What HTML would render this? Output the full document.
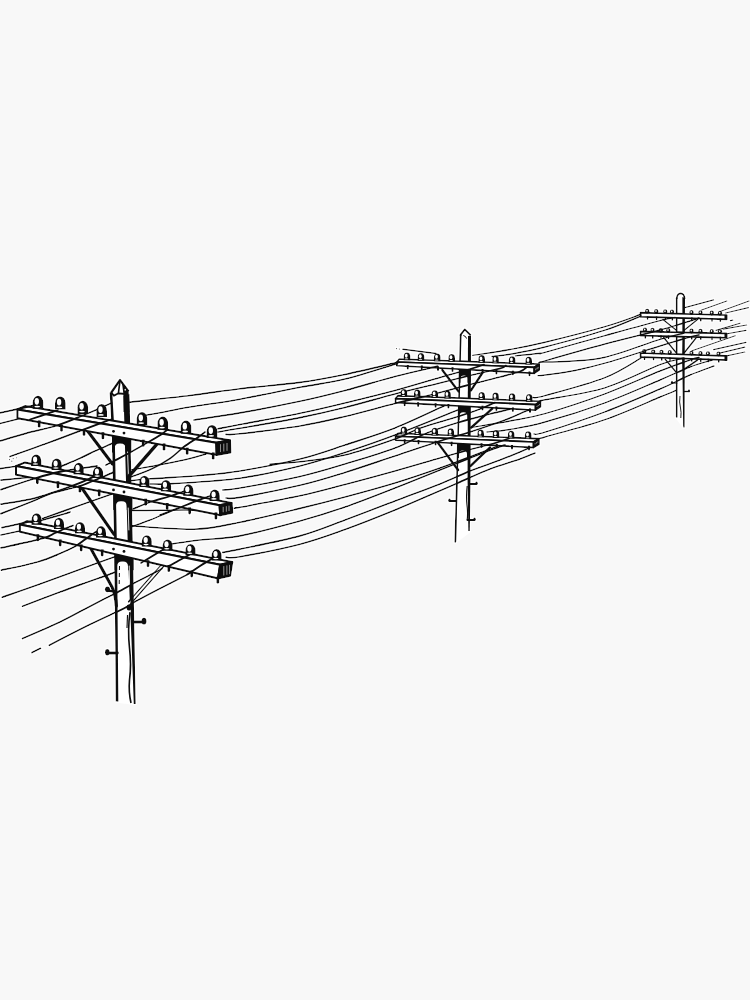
<!DOCTYPE html>
<html><head><meta charset="utf-8"><style>
html,body{margin:0;padding:0;background:#f8f8f8;}
svg{display:block;}
</style></head><body>
<svg width="750" height="1000" viewBox="0 0 750 1000">
<defs><filter id="halo" x="0" y="0" width="750" height="1000" filterUnits="userSpaceOnUse">
<feMorphology in="SourceAlpha" operator="dilate" radius="1.2" result="d"/>
<feFlood flood-color="#ffffff" result="w"/>
<feComposite in="w" in2="d" operator="in" result="wh"/>
<feMerge><feMergeNode in="wh"/><feMergeNode in="SourceGraphic"/></feMerge>
</filter></defs>
<rect width="750" height="1000" fill="#f8f8f8"/>
<g filter="url(#halo)">
<path d="M730.4,320.6 L732.8,320.2" fill="none" stroke="#0a0a0a" stroke-width="1.2" stroke-linecap="round"/>
<path d="M684.8,307.6 L713.6,299.8" fill="none" stroke="#0a0a0a" stroke-width="1.2" stroke-linecap="round"/>
<path d="M701.6,310.0 L726.8,301.0" fill="none" stroke="#0a0a0a" stroke-width="1.2" stroke-linecap="round"/>
<path d="M720.8,311.2 L749.0,301.0" fill="none" stroke="#0a0a0a" stroke-width="1.2" stroke-linecap="round"/>
<path d="M725.6,313.0 L748.4,307.6" fill="none" stroke="#0a0a0a" stroke-width="1.2" stroke-linecap="round"/>
<path d="M716.0,330.4 L740.0,323.2" fill="none" stroke="#0a0a0a" stroke-width="1.2" stroke-linecap="round"/>
<path d="M723.2,329.2 L746.6,325.0" fill="none" stroke="#0a0a0a" stroke-width="1.2" stroke-linecap="round"/>
<path d="M725.6,334.0 L746.0,330.4" fill="none" stroke="#0a0a0a" stroke-width="1.2" stroke-linecap="round"/>
<path d="M692.0,350.8 L735.2,335.8" fill="none" stroke="#0a0a0a" stroke-width="1.2" stroke-linecap="round"/>
<path d="M713.6,349.6 L746.0,342.4" fill="none" stroke="#0a0a0a" stroke-width="1.2" stroke-linecap="round"/>
<path d="M719.6,353.2 L744.8,347.2" fill="none" stroke="#0a0a0a" stroke-width="1.2" stroke-linecap="round"/>
<path d="M722.0,356.8 L744.8,352.0" fill="none" stroke="#0a0a0a" stroke-width="1.2" stroke-linecap="round"/>
<polygon points="676.4,300.0 678.0,294.3 680.8,293.2 683.6,294.3 684.8,300.0 684.4,427.5 676.5,417.0" fill="#fff"  />
<line x1="676.6" y1="298.0" x2="676.6" y2="417.0" stroke="#0a0a0a" stroke-width="1.5" stroke-linecap="round"/>
<path d="M682.4,297 L685,298 L684.6,427.5 L683.2,427.5 L682.6,380 Q681.8,360 682.4,340 Z" fill="#0a0a0a"/>
<path d="M676.6,299 Q677,293.6 680.6,293.3 Q684.4,293.6 684.8,299" fill="none" stroke="#0a0a0a" stroke-width="1.6"/>
<path d="M680,396 Q679,402 680.5,408 Q681.5,412 680.8,418" fill="none" stroke="#0a0a0a" stroke-width="0.9"/>
<line x1="663.0" y1="319.5" x2="676.0" y2="330.0" stroke="#0a0a0a" stroke-width="1.6" stroke-linecap="round"/>
<line x1="697.5" y1="319.5" x2="684.5" y2="330.0" stroke="#0a0a0a" stroke-width="1.6" stroke-linecap="round"/>
<line x1="663.7" y1="337.5" x2="676.0" y2="352.5" stroke="#0a0a0a" stroke-width="1.6" stroke-linecap="round"/>
<line x1="696.0" y1="338.0" x2="684.5" y2="352.5" stroke="#0a0a0a" stroke-width="1.6" stroke-linecap="round"/>
<line x1="665.2" y1="359.2" x2="676.0" y2="372.0" stroke="#0a0a0a" stroke-width="1.6" stroke-linecap="round"/>
<line x1="697.5" y1="360.0" x2="684.5" y2="369.0" stroke="#0a0a0a" stroke-width="1.6" stroke-linecap="round"/>
<polygon points="640.5,312.6 726.5,315.0 726.5,319.4 640.5,316.8" fill="#fff" stroke="#0a0a0a" stroke-width="1.7" stroke-linejoin="round" />
<path d="M724.5,314.4 L727.4,314.8 L727.4,319.8 L724.5,319.6 Z" fill="#0a0a0a"/>
<ellipse cx="647.2" cy="311.2" rx="2.2" ry="2.4" fill="#0a0a0a"/>
<ellipse cx="647.0" cy="310.8" rx="0.8" ry="1.0" fill="#fff"/>
<path d="M646.8,316.4 L646.8,319.2 A0.8,0.8 0 0 0 648.3,319.2 L648.3,316.4 Z" fill="#0a0a0a"/>
<ellipse cx="656.2" cy="311.4" rx="2.2" ry="2.4" fill="#0a0a0a"/>
<ellipse cx="656.0" cy="311.0" rx="0.8" ry="1.0" fill="#fff"/>
<path d="M655.8,316.6 L655.8,319.4 A0.8,0.8 0 0 0 657.3,319.4 L657.3,316.6 Z" fill="#0a0a0a"/>
<ellipse cx="665.2" cy="311.7" rx="2.2" ry="2.4" fill="#0a0a0a"/>
<ellipse cx="665.0" cy="311.3" rx="0.8" ry="1.0" fill="#fff"/>
<path d="M664.8,316.9 L664.8,319.7 A0.8,0.8 0 0 0 666.3,319.7 L666.3,316.9 Z" fill="#0a0a0a"/>
<ellipse cx="672.0" cy="311.9" rx="2.2" ry="2.4" fill="#0a0a0a"/>
<ellipse cx="671.7" cy="311.5" rx="0.8" ry="1.0" fill="#fff"/>
<path d="M671.5,317.1 L671.5,319.9 A0.8,0.8 0 0 0 673.1,319.9 L673.1,317.1 Z" fill="#0a0a0a"/>
<ellipse cx="691.5" cy="312.4" rx="2.2" ry="2.4" fill="#0a0a0a"/>
<ellipse cx="691.2" cy="312.0" rx="0.8" ry="1.0" fill="#fff"/>
<path d="M691.0,317.6 L691.0,320.4 A0.8,0.8 0 0 0 692.6,320.4 L692.6,317.6 Z" fill="#0a0a0a"/>
<ellipse cx="700.5" cy="312.7" rx="2.2" ry="2.4" fill="#0a0a0a"/>
<ellipse cx="700.2" cy="312.3" rx="0.8" ry="1.0" fill="#fff"/>
<path d="M700.0,317.9 L700.0,320.7 A0.8,0.8 0 0 0 701.6,320.7 L701.6,317.9 Z" fill="#0a0a0a"/>
<ellipse cx="711.8" cy="313.0" rx="2.2" ry="2.4" fill="#0a0a0a"/>
<ellipse cx="711.5" cy="312.6" rx="0.8" ry="1.0" fill="#fff"/>
<path d="M711.2,318.2 L711.2,321.0 A0.8,0.8 0 0 0 712.8,321.0 L712.8,318.2 Z" fill="#0a0a0a"/>
<ellipse cx="720.0" cy="313.2" rx="2.2" ry="2.4" fill="#0a0a0a"/>
<ellipse cx="719.7" cy="312.8" rx="0.8" ry="1.0" fill="#fff"/>
<path d="M719.5,318.4 L719.5,321.2 A0.8,0.8 0 0 0 721.1,321.2 L721.1,318.4 Z" fill="#0a0a0a"/>
<polygon points="640.5,331.4 726.5,333.4 726.5,337.8 640.5,335.6" fill="#fff" stroke="#0a0a0a" stroke-width="1.7" stroke-linejoin="round" />
<path d="M724.5,332.79999999999995 L727.4,333.2 L727.4,338.2 L724.5,338.0 Z" fill="#0a0a0a"/>
<ellipse cx="645.0" cy="329.9" rx="2.2" ry="2.4" fill="#0a0a0a"/>
<ellipse cx="644.7" cy="329.5" rx="0.8" ry="1.0" fill="#fff"/>
<path d="M644.5,335.1 L644.5,337.9 A0.8,0.8 0 0 0 646.1,337.9 L646.1,335.1 Z" fill="#0a0a0a"/>
<ellipse cx="652.5" cy="330.1" rx="2.2" ry="2.4" fill="#0a0a0a"/>
<ellipse cx="652.2" cy="329.7" rx="0.8" ry="1.0" fill="#fff"/>
<path d="M652.0,335.3 L652.0,338.1 A0.8,0.8 0 0 0 653.6,338.1 L653.6,335.3 Z" fill="#0a0a0a"/>
<ellipse cx="660.8" cy="330.3" rx="2.2" ry="2.4" fill="#0a0a0a"/>
<ellipse cx="660.5" cy="329.9" rx="0.8" ry="1.0" fill="#fff"/>
<path d="M660.2,335.5 L660.2,338.3 A0.8,0.8 0 0 0 661.8,338.3 L661.8,335.5 Z" fill="#0a0a0a"/>
<ellipse cx="668.2" cy="330.4" rx="2.2" ry="2.4" fill="#0a0a0a"/>
<ellipse cx="668.0" cy="330.0" rx="0.8" ry="1.0" fill="#fff"/>
<path d="M667.8,335.6 L667.8,338.4 A0.8,0.8 0 0 0 669.3,338.4 L669.3,335.6 Z" fill="#0a0a0a"/>
<ellipse cx="691.5" cy="331.0" rx="2.2" ry="2.4" fill="#0a0a0a"/>
<ellipse cx="691.2" cy="330.6" rx="0.8" ry="1.0" fill="#fff"/>
<path d="M691.0,336.2 L691.0,339.0 A0.8,0.8 0 0 0 692.6,339.0 L692.6,336.2 Z" fill="#0a0a0a"/>
<ellipse cx="700.5" cy="331.2" rx="2.2" ry="2.4" fill="#0a0a0a"/>
<ellipse cx="700.2" cy="330.8" rx="0.8" ry="1.0" fill="#fff"/>
<path d="M700.0,336.4 L700.0,339.2 A0.8,0.8 0 0 0 701.6,339.2 L701.6,336.4 Z" fill="#0a0a0a"/>
<ellipse cx="711.8" cy="331.5" rx="2.2" ry="2.4" fill="#0a0a0a"/>
<ellipse cx="711.5" cy="331.1" rx="0.8" ry="1.0" fill="#fff"/>
<path d="M711.2,336.7 L711.2,339.5 A0.8,0.8 0 0 0 712.8,339.5 L712.8,336.7 Z" fill="#0a0a0a"/>
<ellipse cx="720.0" cy="331.6" rx="2.2" ry="2.4" fill="#0a0a0a"/>
<ellipse cx="719.7" cy="331.2" rx="0.8" ry="1.0" fill="#fff"/>
<path d="M719.5,336.8 L719.5,339.6 A0.8,0.8 0 0 0 721.1,339.6 L721.1,336.8 Z" fill="#0a0a0a"/>
<polygon points="640.5,353.0 726.5,355.8 726.5,360.2 640.5,357.2" fill="#fff" stroke="#0a0a0a" stroke-width="1.7" stroke-linejoin="round" />
<path d="M724.5,355.2 L727.4,355.6 L727.4,360.6 L724.5,360.40000000000003 Z" fill="#0a0a0a"/>
<ellipse cx="644.2" cy="351.5" rx="2.2" ry="2.4" fill="#0a0a0a"/>
<ellipse cx="644.0" cy="351.1" rx="0.8" ry="1.0" fill="#fff"/>
<path d="M643.8,356.7 L643.8,359.5 A0.8,0.8 0 0 0 645.3,359.5 L645.3,356.7 Z" fill="#0a0a0a"/>
<ellipse cx="653.2" cy="351.8" rx="2.2" ry="2.4" fill="#0a0a0a"/>
<ellipse cx="653.0" cy="351.4" rx="0.8" ry="1.0" fill="#fff"/>
<path d="M652.8,357.0 L652.8,359.8 A0.8,0.8 0 0 0 654.3,359.8 L654.3,357.0 Z" fill="#0a0a0a"/>
<ellipse cx="661.5" cy="352.1" rx="2.2" ry="2.4" fill="#0a0a0a"/>
<ellipse cx="661.2" cy="351.7" rx="0.8" ry="1.0" fill="#fff"/>
<path d="M661.0,357.3 L661.0,360.1 A0.8,0.8 0 0 0 662.6,360.1 L662.6,357.3 Z" fill="#0a0a0a"/>
<ellipse cx="669.8" cy="352.4" rx="2.2" ry="2.4" fill="#0a0a0a"/>
<ellipse cx="669.5" cy="352.0" rx="0.8" ry="1.0" fill="#fff"/>
<path d="M669.2,357.6 L669.2,360.4 A0.8,0.8 0 0 0 670.8,360.4 L670.8,357.6 Z" fill="#0a0a0a"/>
<ellipse cx="691.5" cy="353.1" rx="2.2" ry="2.4" fill="#0a0a0a"/>
<ellipse cx="691.2" cy="352.7" rx="0.8" ry="1.0" fill="#fff"/>
<path d="M691.0,358.3 L691.0,361.1 A0.8,0.8 0 0 0 692.6,361.1 L692.6,358.3 Z" fill="#0a0a0a"/>
<ellipse cx="700.5" cy="353.4" rx="2.2" ry="2.4" fill="#0a0a0a"/>
<ellipse cx="700.2" cy="353.0" rx="0.8" ry="1.0" fill="#fff"/>
<path d="M700.0,358.6 L700.0,361.4 A0.8,0.8 0 0 0 701.6,361.4 L701.6,358.6 Z" fill="#0a0a0a"/>
<ellipse cx="708.0" cy="353.6" rx="2.2" ry="2.4" fill="#0a0a0a"/>
<ellipse cx="707.7" cy="353.2" rx="0.8" ry="1.0" fill="#fff"/>
<path d="M707.5,358.8 L707.5,361.6 A0.8,0.8 0 0 0 709.1,361.6 L709.1,358.8 Z" fill="#0a0a0a"/>
<ellipse cx="718.5" cy="353.9" rx="2.2" ry="2.4" fill="#0a0a0a"/>
<ellipse cx="718.2" cy="353.5" rx="0.8" ry="1.0" fill="#fff"/>
<path d="M718.0,359.1 L718.0,361.9 A0.8,0.8 0 0 0 719.6,361.9 L719.6,359.1 Z" fill="#0a0a0a"/>
<line x1="676.5" y1="383.0" x2="672.0" y2="383.0" stroke="#0a0a0a" stroke-width="1.7" stroke-linecap="round"/>
<ellipse cx="672.0" cy="382.2" rx="1.1" ry="1.5" fill="#0a0a0a"/>
<line x1="684.5" y1="391.5" x2="689.0" y2="391.5" stroke="#0a0a0a" stroke-width="1.7" stroke-linecap="round"/>
<ellipse cx="689.0" cy="390.7" rx="1.1" ry="1.5" fill="#0a0a0a"/>
<polygon points="460.5,334.6 464.8,329.3 470.7,335.1 471.0,344.0 469.6,531.0 455.3,542.0" fill="#fff"  />
<path d="M460.6,336 L460.6,334.6 L464.8,329.3 L470.7,335.1" fill="none" stroke="#0a0a0a" stroke-width="1.7" stroke-linejoin="round"/>
<line x1="460.6" y1="335.0" x2="455.3" y2="542.0" stroke="#0a0a0a" stroke-width="1.7" stroke-linecap="round"/>
<path d="M468,336 L471,335.5 L470.6,480 L469.8,531 L468.4,531 L467.6,480 Z" fill="#0a0a0a"/>
<path d="M463.3,335.5 Q466,336 466.5,338.5" fill="none" stroke="#0a0a0a" stroke-width="1.0"/>
<path d="M467.2,486 Q466,496 467,505 Q468,513 467.2,520" fill="none" stroke="#0a0a0a" stroke-width="1.1"/>
<path d="M458.8,367.5 L470.8,367.5 L470.8,382.7 L467.5,382.7 L467.5,378.7 Q467.5,375.5 464.3,375.5 L463.6,375.5 Q460.4,375.5 460.4,378.7 L460.4,382.7 L458.8,382.7 Z" fill="#0a0a0a"/>
<path d="M458.0,404.3 L470.6,404.3 L470.6,419.8 L467.3,419.8 L467.3,415.8 Q467.3,412.3 463.8,412.3 L463.1,412.3 Q459.6,412.3 459.6,415.8 L459.6,419.8 L458.0,419.8 Z" fill="#0a0a0a"/>
<path d="M457.3,441.9 L470.3,441.9 L470.3,458.0 L467.0,458.0 L467.0,454.0 Q467.0,450.4 463.3,450.4 L462.5,450.4 Q458.9,450.4 458.9,454.0 L458.9,458.0 L457.3,458.0 Z" fill="#0a0a0a"/>
<line x1="442.3" y1="370.0" x2="458.6" y2="391.5" stroke="#0a0a0a" stroke-width="2.5" stroke-linecap="round"/>
<line x1="482.8" y1="372.3" x2="471.0" y2="390.4" stroke="#0a0a0a" stroke-width="2.5" stroke-linecap="round"/>
<line x1="492.4" y1="408.5" x2="471.0" y2="427.7" stroke="#0a0a0a" stroke-width="2.5" stroke-linecap="round"/>
<line x1="437.3" y1="442.0" x2="458.0" y2="470.0" stroke="#0a0a0a" stroke-width="2.5" stroke-linecap="round"/>
<line x1="490.0" y1="447.3" x2="470.5" y2="466.0" stroke="#0a0a0a" stroke-width="2.5" stroke-linecap="round"/>
<line x1="469.5" y1="484.0" x2="476.5" y2="484.0" stroke="#0a0a0a" stroke-width="1.9" stroke-linecap="round"/>
<ellipse cx="476.5" cy="483.2" rx="1.3" ry="1.8" fill="#0a0a0a"/>
<line x1="456.0" y1="501.0" x2="449.5" y2="501.0" stroke="#0a0a0a" stroke-width="1.9" stroke-linecap="round"/>
<ellipse cx="449.5" cy="500.2" rx="1.3" ry="1.8" fill="#0a0a0a"/>
<line x1="467.5" y1="520.0" x2="474.5" y2="520.0" stroke="#0a0a0a" stroke-width="1.9" stroke-linecap="round"/>
<ellipse cx="474.5" cy="519.2" rx="1.3" ry="1.8" fill="#0a0a0a"/>
<path d="M128.0,470.5 C134.0,469.4 153.7,466.0 164.0,464.0 C174.3,462.0 183.0,460.2 190.0,458.5 C197.0,456.8 203.3,454.8 206.0,454.0" fill="none" stroke="#0a0a0a" stroke-width="1.5" stroke-linecap="round"/>
<path d="M128.0,510.5 C133.3,510.5 150.3,510.4 160.0,510.3 C169.7,510.2 178.5,509.9 186.0,510.0 C193.5,510.1 201.8,510.8 205.0,511.0" fill="none" stroke="#0a0a0a" stroke-width="1.5" stroke-linecap="round"/>
<path d="M128.0,528.0 C131.7,526.7 143.3,522.6 150.0,520.0 C156.7,517.4 162.7,514.7 168.0,512.5 C173.3,510.3 179.7,507.9 182.0,507.0" fill="none" stroke="#0a0a0a" stroke-width="1.5" stroke-linecap="round"/>
<polygon points="396.8,362.0 399.3,359.0 539.2,364.0 534.2,367.4" fill="#fff" stroke="#0a0a0a" stroke-width="1.6" stroke-linejoin="round" />
<polygon points="396.8,362.0 534.2,367.4 534.2,373.4 396.8,365.8" fill="#fff" stroke="#0a0a0a" stroke-width="1.6" stroke-linejoin="round" />
<polygon points="534.2,367.4 539.2,364.0 539.2,370.0 534.2,373.4" fill="#0a0a0a" stroke="#0a0a0a" stroke-width="1.6" stroke-linejoin="round" />
<line x1="535.7" y1="368.6" x2="535.7" y2="370.2" stroke="#fff" stroke-width="0.7" opacity="0.85"/>
<line x1="537.0" y1="367.7" x2="537.0" y2="369.3" stroke="#fff" stroke-width="0.7" opacity="0.85"/>
<line x1="538.1" y1="366.9" x2="538.1" y2="368.5" stroke="#fff" stroke-width="0.7" opacity="0.85"/>
<polygon points="395.5,398.6 398.0,395.6 540.5,401.2 535.5,404.6" fill="#fff" stroke="#0a0a0a" stroke-width="1.6" stroke-linejoin="round" />
<polygon points="395.5,398.6 535.5,404.6 535.5,410.2 395.5,402.6" fill="#fff" stroke="#0a0a0a" stroke-width="1.6" stroke-linejoin="round" />
<polygon points="535.5,404.6 540.5,401.2 540.5,406.8 535.5,410.2" fill="#0a0a0a" stroke="#0a0a0a" stroke-width="1.6" stroke-linejoin="round" />
<line x1="537.0" y1="405.8" x2="537.0" y2="407.0" stroke="#fff" stroke-width="0.7" opacity="0.85"/>
<line x1="538.2" y1="404.9" x2="538.2" y2="406.1" stroke="#fff" stroke-width="0.7" opacity="0.85"/>
<line x1="539.4" y1="404.1" x2="539.4" y2="405.3" stroke="#fff" stroke-width="0.7" opacity="0.85"/>
<polygon points="395.5,436.2 398.0,433.2 539.0,438.6 533.5,442.0" fill="#fff" stroke="#0a0a0a" stroke-width="1.6" stroke-linejoin="round" />
<polygon points="395.5,436.2 533.5,442.0 533.5,447.6 395.5,440.2" fill="#fff" stroke="#0a0a0a" stroke-width="1.6" stroke-linejoin="round" />
<polygon points="533.5,442.0 539.0,438.6 539.0,444.2 533.5,447.6" fill="#0a0a0a" stroke="#0a0a0a" stroke-width="1.6" stroke-linejoin="round" />
<line x1="535.1" y1="443.2" x2="535.1" y2="444.4" stroke="#fff" stroke-width="0.7" opacity="0.85"/>
<line x1="536.5" y1="442.3" x2="536.5" y2="443.5" stroke="#fff" stroke-width="0.7" opacity="0.85"/>
<line x1="537.8" y1="441.5" x2="537.8" y2="442.7" stroke="#fff" stroke-width="0.7" opacity="0.85"/>
<path d="M472.8,355.4 C479.0,354.4 498.0,351.7 510.0,349.5 C522.0,347.3 529.2,346.0 545.0,342.2 C560.8,338.4 589.1,331.2 605.0,326.6 C620.9,322.0 634.6,316.5 640.5,314.5" fill="none" stroke="#0a0a0a" stroke-width="1.4" stroke-linecap="round"/>
<path d="M492.0,356.5 C495.0,356.1 501.2,355.9 510.0,354.3 C518.8,352.7 529.2,351.0 545.0,347.0 C560.8,343.0 589.0,335.4 605.0,330.2 C621.0,325.0 635.0,318.4 641.0,316.0" fill="none" stroke="#0a0a0a" stroke-width="1.4" stroke-linecap="round"/>
<path d="M515.5,355.9 C519.6,355.5 535.1,353.9 540.0,353.3 C544.9,352.7 534.2,355.3 545.0,352.4 C555.8,349.4 585.8,340.9 605.0,335.6 C624.2,330.3 648.3,323.6 660.0,320.6 C671.7,317.6 672.5,318.0 675.0,317.5" fill="none" stroke="#0a0a0a" stroke-width="1.4" stroke-linecap="round"/>
<path d="M540.0,362.5 C540.8,362.2 534.2,363.9 545.0,360.8 C555.8,357.7 585.8,349.1 605.0,344.0 C624.2,338.9 646.7,333.6 660.0,330.0 C673.3,326.4 678.5,324.5 685.0,322.5 C691.5,320.5 696.7,318.8 699.0,318.0" fill="none" stroke="#0a0a0a" stroke-width="1.4" stroke-linecap="round"/>
<path d="M540.0,362.0 C545.0,361.9 559.2,362.0 570.0,361.2 C580.8,360.4 590.0,360.8 605.0,357.2 C620.0,353.6 646.8,343.4 660.0,339.4 C673.2,335.4 680.0,334.1 684.0,333.0" fill="none" stroke="#0a0a0a" stroke-width="1.4" stroke-linecap="round"/>
<path d="M538.0,375.6 C539.2,375.5 538.8,375.9 545.0,375.0 C551.2,374.1 565.0,372.5 575.0,370.5 C585.0,368.5 590.8,367.3 605.0,363.2 C619.2,359.1 645.8,350.4 660.0,346.0 C674.2,341.6 683.5,338.8 690.0,337.0 C696.5,335.2 697.5,335.3 699.0,335.0" fill="none" stroke="#0a0a0a" stroke-width="1.4" stroke-linecap="round"/>
<path d="M532.8,397.6 C534.8,397.3 533.0,398.9 545.0,395.6 C557.0,392.3 588.8,384.0 605.0,377.6 C621.2,371.2 635.8,360.8 642.0,357.4" fill="none" stroke="#0a0a0a" stroke-width="1.4" stroke-linecap="round"/>
<path d="M541.2,400.9 C541.8,400.7 534.4,402.0 545.0,399.8 C555.6,397.6 585.8,393.7 605.0,387.8 C624.2,381.9 646.8,369.6 660.0,364.6 C673.2,359.6 680.0,359.1 684.0,358.0" fill="none" stroke="#0a0a0a" stroke-width="1.4" stroke-linecap="round"/>
<path d="M471.8,427.4 C478.2,426.3 497.8,423.3 510.0,421.0 C522.2,418.7 529.2,418.1 545.0,413.6 C560.8,409.1 585.8,400.9 605.0,393.8 C624.2,386.7 645.8,376.6 660.0,371.0 C674.2,365.4 683.5,362.2 690.0,360.0 C696.5,357.8 697.5,357.9 699.0,357.5" fill="none" stroke="#0a0a0a" stroke-width="1.4" stroke-linecap="round"/>
<path d="M487.0,432.0 C490.8,431.6 500.3,431.2 510.0,429.5 C519.7,427.8 529.2,426.4 545.0,422.0 C560.8,417.6 585.8,409.8 605.0,402.8 C624.2,395.8 645.8,386.0 660.0,380.0 C674.2,374.0 681.3,370.3 690.0,367.0 C698.7,363.7 708.7,361.2 712.4,360.0" fill="none" stroke="#0a0a0a" stroke-width="1.4" stroke-linecap="round"/>
<path d="M534.0,434.0 C535.8,433.7 533.2,435.9 545.0,432.2 C556.8,428.5 585.8,419.0 605.0,411.8 C624.2,404.6 645.8,395.1 660.0,389.0 C674.2,382.9 681.0,378.8 690.0,375.0 C699.0,371.2 710.0,367.5 714.0,366.0" fill="none" stroke="#0a0a0a" stroke-width="1.4" stroke-linecap="round"/>
<path d="M541.2,438.0 C541.8,437.8 534.4,440.1 545.0,437.0 C555.6,433.9 585.8,426.3 605.0,419.6 C624.2,412.9 648.2,401.9 660.0,397.0 C671.8,392.1 673.3,391.6 676.0,390.5" fill="none" stroke="#0a0a0a" stroke-width="1.4" stroke-linecap="round"/>
<path d="M128.0,402.4 C138.3,401.2 171.3,397.8 190.0,395.5 C208.7,393.2 221.7,390.9 240.0,388.7 C258.3,386.5 282.5,384.8 300.0,382.4 C317.5,380.0 328.8,377.8 345.0,374.5 C361.2,371.2 388.8,364.4 397.5,362.4" fill="none" stroke="#0a0a0a" stroke-width="1.65" stroke-linecap="round"/>
<path d="M146.0,415.2 C148.3,414.8 152.7,414.2 160.0,412.8 C167.3,411.4 176.7,409.3 190.0,407.0 C203.3,404.7 221.7,402.5 240.0,399.2 C258.3,395.9 282.5,390.7 300.0,387.3 C317.5,383.9 328.8,383.0 345.0,379.0 C361.2,375.0 388.8,366.0 397.5,363.4" fill="none" stroke="#0a0a0a" stroke-width="1.65" stroke-linecap="round"/>
<path d="M194.0,420.0 C201.7,418.8 222.3,416.0 240.0,412.9 C257.7,409.8 282.5,405.0 300.0,401.3 C317.5,397.6 329.2,394.6 345.0,390.5 C360.8,386.4 379.6,380.5 395.0,376.5 C410.4,372.5 430.6,368.1 437.7,366.4" fill="none" stroke="#0a0a0a" stroke-width="1.65" stroke-linecap="round"/>
<path d="M218.0,428.8 C221.7,428.1 226.3,427.1 240.0,424.5 C253.7,421.9 282.5,416.9 300.0,413.3 C317.5,409.7 329.2,406.8 345.0,403.0 C360.8,399.2 379.2,394.8 395.0,390.5 C410.8,386.2 427.2,381.2 440.0,377.5 C452.8,373.8 464.7,370.7 472.0,368.5 C479.3,366.3 482.0,365.2 484.0,364.5" fill="none" stroke="#0a0a0a" stroke-width="1.65" stroke-linecap="round"/>
<path d="M218.0,432.0 C221.7,431.4 226.3,430.7 240.0,428.3 C253.7,425.9 282.5,421.1 300.0,417.6 C317.5,414.1 329.2,411.4 345.0,407.5 C360.8,403.6 379.2,398.1 395.0,394.0 C410.8,389.9 427.2,386.2 440.0,383.0 C452.8,379.8 462.0,377.4 472.0,375.0 C482.0,372.6 494.3,370.1 500.0,368.5 C505.7,366.9 505.0,366.0 506.0,365.5" fill="none" stroke="#0a0a0a" stroke-width="1.65" stroke-linecap="round"/>
<path d="M226.0,434.4 C228.3,434.3 227.7,435.2 240.0,433.8 C252.3,432.4 282.5,428.9 300.0,426.0 C317.5,423.1 329.2,420.2 345.0,416.5 C360.8,412.8 379.2,407.5 395.0,403.5 C410.8,399.5 427.2,395.8 440.0,392.5 C452.8,389.2 462.0,386.6 472.0,384.0 C482.0,381.4 492.0,379.1 500.0,377.0 C508.0,374.9 515.5,373.2 520.0,371.5 C524.5,369.8 525.8,367.8 527.0,367.0" fill="none" stroke="#0a0a0a" stroke-width="1.65" stroke-linecap="round"/>
<path d="M128.0,481.0 C131.8,480.6 138.8,479.7 150.8,478.8 C162.8,477.9 185.1,476.8 200.0,475.5 C214.9,474.2 223.3,473.8 240.0,471.0 C256.7,468.2 282.5,463.3 300.0,459.0 C317.5,454.7 329.2,450.2 345.0,445.0 C360.8,439.8 378.3,434.6 395.0,428.0 C411.7,421.4 436.7,409.2 445.0,405.5" fill="none" stroke="#0a0a0a" stroke-width="1.65" stroke-linecap="round"/>
<path d="M150.0,484.0 C153.9,483.9 158.2,484.6 173.2,483.6 C188.2,482.6 218.9,481.1 240.0,478.2 C261.1,475.3 282.5,470.3 300.0,466.0 C317.5,461.7 329.2,457.7 345.0,452.5 C360.8,447.3 376.0,442.2 395.0,435.0 C414.0,427.8 447.5,414.1 459.0,409.5 C470.5,404.9 463.2,407.7 464.0,407.3" fill="none" stroke="#0a0a0a" stroke-width="1.65" stroke-linecap="round"/>
<path d="M270.0,464.2 C275.0,463.8 287.5,463.3 300.0,461.8 C312.5,460.3 329.2,458.8 345.0,455.0 C360.8,451.2 382.4,443.5 395.0,439.0 C407.6,434.5 409.9,431.8 420.6,428.0 C431.3,424.2 449.1,419.5 459.0,416.3 C468.9,413.1 474.0,411.3 480.0,409.0 C486.0,406.7 492.5,403.6 495.0,402.5" fill="none" stroke="#0a0a0a" stroke-width="1.65" stroke-linecap="round"/>
<path d="M222.8,490.0 C225.7,489.7 227.1,490.2 240.0,488.0 C252.9,485.8 282.5,480.5 300.0,476.5 C317.5,472.5 329.2,468.8 345.0,464.0 C360.8,459.2 381.3,453.2 395.0,448.0 C408.7,442.8 416.2,437.3 427.0,433.0 C437.8,428.7 449.5,425.2 460.0,422.0 C470.5,418.8 481.4,416.2 490.0,414.0 C498.6,411.8 507.8,409.7 511.4,408.8" fill="none" stroke="#0a0a0a" stroke-width="1.65" stroke-linecap="round"/>
<path d="M226.0,498.0 C228.3,497.9 227.7,499.5 240.0,497.4 C252.3,495.3 282.5,489.4 300.0,485.3 C317.5,481.2 329.2,477.4 345.0,472.5 C360.8,467.6 379.2,461.2 395.0,456.0 C410.8,450.8 427.5,445.0 440.0,441.0 C452.5,437.0 459.2,435.5 470.0,432.0 C480.8,428.5 495.8,423.4 505.0,420.0 C514.2,416.6 520.8,413.2 525.0,411.5 C529.2,409.8 529.2,409.8 530.0,409.5" fill="none" stroke="#0a0a0a" stroke-width="1.65" stroke-linecap="round"/>
<path d="M236.4,507.6 C237.0,507.6 229.4,509.3 240.0,507.3 C250.6,505.3 282.5,499.6 300.0,495.8 C317.5,492.0 329.2,488.6 345.0,484.5 C360.8,480.4 379.2,475.4 395.0,471.0 C410.8,466.6 427.5,461.6 440.0,458.0 C452.5,454.4 461.7,451.8 470.0,449.5 C478.3,447.2 485.0,445.8 490.0,444.5 C495.0,443.2 496.8,442.5 500.0,441.5 C503.2,440.5 507.5,439.0 509.0,438.5" fill="none" stroke="#0a0a0a" stroke-width="1.65" stroke-linecap="round"/>
<path d="M128.0,525.5 C139.0,526.1 175.3,529.8 194.0,529.2 C212.7,528.7 222.3,525.7 240.0,522.2 C257.7,518.7 282.5,512.6 300.0,508.4 C317.5,504.2 329.2,501.2 345.0,497.0 C360.8,492.8 379.2,487.8 395.0,483.0 C410.8,478.2 425.8,473.0 440.0,468.0 C454.2,463.0 470.3,456.7 480.0,453.0 C489.7,449.3 495.0,447.2 498.0,446.0" fill="none" stroke="#0a0a0a" stroke-width="1.65" stroke-linecap="round"/>
<path d="M168.4,544.4 C173.7,543.7 188.1,541.4 200.0,540.0 C211.9,538.6 223.3,539.1 240.0,535.9 C256.7,532.7 282.5,525.8 300.0,521.0 C317.5,516.2 329.2,512.5 345.0,507.0 C360.8,501.5 379.2,494.2 395.0,488.0 C410.8,481.8 427.5,475.0 440.0,470.0 C452.5,465.0 460.7,461.7 470.0,458.0 C479.3,454.3 490.2,450.2 496.0,448.0 C501.8,445.8 503.5,445.5 505.0,445.0" fill="none" stroke="#0a0a0a" stroke-width="1.65" stroke-linecap="round"/>
<path d="M222.8,552.4 C225.7,551.9 227.1,551.9 240.0,549.1 C252.9,546.4 282.5,540.8 300.0,535.9 C317.5,531.0 329.2,525.8 345.0,520.0 C360.8,514.2 379.2,507.0 395.0,501.0 C410.8,495.0 427.5,489.0 440.0,484.0 C452.5,479.0 460.0,475.0 470.0,471.0 C480.0,467.0 491.7,463.2 500.0,460.0 C508.3,456.8 515.0,454.1 520.0,452.0 C525.0,449.9 528.3,448.2 530.0,447.5" fill="none" stroke="#0a0a0a" stroke-width="1.65" stroke-linecap="round"/>
<path d="M226.0,557.2 C228.3,557.1 227.7,559.0 240.0,556.8 C252.3,554.6 282.5,548.8 300.0,544.2 C317.5,539.7 329.2,535.2 345.0,529.5 C360.8,523.8 380.8,515.8 395.0,510.0 C409.2,504.2 419.2,499.7 430.0,495.0 C440.8,490.3 450.0,486.3 460.0,482.0 C470.0,477.7 480.0,472.8 490.0,469.0 C500.0,465.2 512.5,461.7 520.0,459.0 C527.5,456.3 532.5,454.0 535.0,453.0" fill="none" stroke="#0a0a0a" stroke-width="1.65" stroke-linecap="round"/>
<path d="M403.0,349.3 L436.0,353.5" fill="none" stroke="#0a0a0a" stroke-width="1.65" stroke-linecap="round"/>
<path d="M403.7,360.2 L403.7,356.5 A3.3,4.1 0 0 1 410.3,356.5 L410.3,360.2 Z" fill="#0a0a0a"/>
<ellipse cx="406.3" cy="355.7" rx="1.4" ry="2.0" fill="#fff"/>
<ellipse cx="406.5" cy="358.8" rx="1.8" ry="0.5" fill="#fff"/>
<path d="M406.8,364.9 L406.8,368.5 A1.0,1.0 0 0 0 408.8,368.5 L408.8,364.9 Z" fill="#0a0a0a"/>
<path d="M417.7,360.7 L417.7,357.0 A3.3,4.1 0 0 1 424.3,357.0 L424.3,360.7 Z" fill="#0a0a0a"/>
<ellipse cx="420.3" cy="356.2" rx="1.4" ry="2.0" fill="#fff"/>
<ellipse cx="420.5" cy="359.3" rx="1.8" ry="0.5" fill="#fff"/>
<path d="M420.8,365.6 L420.8,369.2 A1.0,1.0 0 0 0 422.8,369.2 L422.8,365.6 Z" fill="#0a0a0a"/>
<path d="M433.9,361.3 L433.9,357.6 A3.3,4.1 0 0 1 440.5,357.6 L440.5,361.3 Z" fill="#0a0a0a"/>
<ellipse cx="436.5" cy="356.8" rx="1.4" ry="2.0" fill="#fff"/>
<ellipse cx="436.7" cy="359.9" rx="1.8" ry="0.5" fill="#fff"/>
<path d="M437.0,366.5 L437.0,370.1 A1.0,1.0 0 0 0 439.0,370.1 L439.0,366.5 Z" fill="#0a0a0a"/>
<path d="M448.4,361.8 L448.4,358.1 A3.3,4.1 0 0 1 455.0,358.1 L455.0,361.8 Z" fill="#0a0a0a"/>
<ellipse cx="451.0" cy="357.3" rx="1.4" ry="2.0" fill="#fff"/>
<ellipse cx="451.2" cy="360.4" rx="1.8" ry="0.5" fill="#fff"/>
<path d="M451.5,367.3 L451.5,370.9 A1.0,1.0 0 0 0 453.5,370.9 L453.5,367.3 Z" fill="#0a0a0a"/>
<path d="M478.4,362.8 L478.4,359.2 A3.3,4.1 0 0 1 485.0,359.2 L485.0,362.8 Z" fill="#0a0a0a"/>
<ellipse cx="481.0" cy="358.4" rx="1.4" ry="2.0" fill="#fff"/>
<ellipse cx="481.2" cy="361.5" rx="1.8" ry="0.5" fill="#fff"/>
<path d="M481.5,369.0 L481.5,372.6 A1.0,1.0 0 0 0 483.5,372.6 L483.5,369.0 Z" fill="#0a0a0a"/>
<path d="M492.3,363.3 L492.3,359.7 A3.3,4.1 0 0 1 498.9,359.7 L498.9,363.3 Z" fill="#0a0a0a"/>
<ellipse cx="494.9" cy="358.9" rx="1.4" ry="2.0" fill="#fff"/>
<ellipse cx="495.1" cy="362.0" rx="1.8" ry="0.5" fill="#fff"/>
<path d="M495.4,369.8 L495.4,373.4 A1.0,1.0 0 0 0 497.4,373.4 L497.4,369.8 Z" fill="#0a0a0a"/>
<path d="M508.8,363.9 L508.8,360.3 A3.3,4.1 0 0 1 515.4,360.3 L515.4,363.9 Z" fill="#0a0a0a"/>
<ellipse cx="511.4" cy="359.5" rx="1.4" ry="2.0" fill="#fff"/>
<ellipse cx="511.6" cy="362.6" rx="1.8" ry="0.5" fill="#fff"/>
<path d="M511.9,370.7 L511.9,374.3 A1.0,1.0 0 0 0 513.9,374.3 L513.9,370.7 Z" fill="#0a0a0a"/>
<path d="M525.4,364.5 L525.4,360.8 A3.3,4.1 0 0 1 532.0,360.8 L532.0,364.5 Z" fill="#0a0a0a"/>
<ellipse cx="528.0" cy="360.1" rx="1.4" ry="2.0" fill="#fff"/>
<ellipse cx="528.2" cy="363.2" rx="1.8" ry="0.5" fill="#fff"/>
<path d="M528.5,371.6 L528.5,375.2 A1.0,1.0 0 0 0 530.5,375.2 L530.5,371.6 Z" fill="#0a0a0a"/>
<path d="M400.6,396.7 L400.6,393.1 A3.3,4.1 0 0 1 407.2,393.1 L407.2,396.7 Z" fill="#0a0a0a"/>
<ellipse cx="403.2" cy="392.3" rx="1.4" ry="2.0" fill="#fff"/>
<ellipse cx="403.4" cy="395.4" rx="1.8" ry="0.5" fill="#fff"/>
<path d="M403.7,401.6 L403.7,405.2 A1.0,1.0 0 0 0 405.7,405.2 L405.7,401.6 Z" fill="#0a0a0a"/>
<path d="M414.0,397.3 L414.0,393.6 A3.3,4.1 0 0 1 420.6,393.6 L420.6,397.3 Z" fill="#0a0a0a"/>
<ellipse cx="416.6" cy="392.8" rx="1.4" ry="2.0" fill="#fff"/>
<ellipse cx="416.8" cy="395.9" rx="1.8" ry="0.5" fill="#fff"/>
<path d="M417.1,402.3 L417.1,405.9 A1.0,1.0 0 0 0 419.1,405.9 L419.1,402.3 Z" fill="#0a0a0a"/>
<path d="M431.5,397.9 L431.5,394.3 A3.3,4.1 0 0 1 438.1,394.3 L438.1,397.9 Z" fill="#0a0a0a"/>
<ellipse cx="434.1" cy="393.5" rx="1.4" ry="2.0" fill="#fff"/>
<ellipse cx="434.3" cy="396.6" rx="1.8" ry="0.5" fill="#fff"/>
<path d="M434.6,403.2 L434.6,406.8 A1.0,1.0 0 0 0 436.6,406.8 L436.6,403.2 Z" fill="#0a0a0a"/>
<path d="M444.3,398.4 L444.3,394.8 A3.3,4.1 0 0 1 450.9,394.8 L450.9,398.4 Z" fill="#0a0a0a"/>
<ellipse cx="446.9" cy="394.0" rx="1.4" ry="2.0" fill="#fff"/>
<ellipse cx="447.1" cy="397.1" rx="1.8" ry="0.5" fill="#fff"/>
<path d="M447.4,403.9 L447.4,407.5 A1.0,1.0 0 0 0 449.4,407.5 L449.4,403.9 Z" fill="#0a0a0a"/>
<path d="M478.4,399.8 L478.4,396.1 A3.3,4.1 0 0 1 485.0,396.1 L485.0,399.8 Z" fill="#0a0a0a"/>
<ellipse cx="481.0" cy="395.3" rx="1.4" ry="2.0" fill="#fff"/>
<ellipse cx="481.2" cy="398.5" rx="1.8" ry="0.5" fill="#fff"/>
<path d="M481.5,405.8 L481.5,409.4 A1.0,1.0 0 0 0 483.5,409.4 L483.5,405.8 Z" fill="#0a0a0a"/>
<path d="M492.3,400.3 L492.3,396.7 A3.3,4.1 0 0 1 498.9,396.7 L498.9,400.3 Z" fill="#0a0a0a"/>
<ellipse cx="494.9" cy="395.9" rx="1.4" ry="2.0" fill="#fff"/>
<ellipse cx="495.1" cy="399.0" rx="1.8" ry="0.5" fill="#fff"/>
<path d="M495.4,406.5 L495.4,410.1 A1.0,1.0 0 0 0 497.4,410.1 L497.4,406.5 Z" fill="#0a0a0a"/>
<path d="M508.8,401.0 L508.8,397.3 A3.3,4.1 0 0 1 515.4,397.3 L515.4,401.0 Z" fill="#0a0a0a"/>
<ellipse cx="511.4" cy="396.5" rx="1.4" ry="2.0" fill="#fff"/>
<ellipse cx="511.6" cy="399.7" rx="1.8" ry="0.5" fill="#fff"/>
<path d="M511.9,407.4 L511.9,411.0 A1.0,1.0 0 0 0 513.9,411.0 L513.9,407.4 Z" fill="#0a0a0a"/>
<path d="M525.9,401.7 L525.9,398.0 A3.3,4.1 0 0 1 532.5,398.0 L532.5,401.7 Z" fill="#0a0a0a"/>
<ellipse cx="528.5" cy="397.2" rx="1.4" ry="2.0" fill="#fff"/>
<ellipse cx="528.7" cy="400.3" rx="1.8" ry="0.5" fill="#fff"/>
<path d="M529.0,408.4 L529.0,412.0 A1.0,1.0 0 0 0 531.0,412.0 L531.0,408.4 Z" fill="#0a0a0a"/>
<path d="M400.6,434.3 L400.6,430.7 A3.3,4.1 0 0 1 407.2,430.7 L407.2,434.3 Z" fill="#0a0a0a"/>
<ellipse cx="403.2" cy="429.9" rx="1.4" ry="2.0" fill="#fff"/>
<ellipse cx="403.4" cy="433.0" rx="1.8" ry="0.5" fill="#fff"/>
<path d="M403.7,439.2 L403.7,442.8 A1.0,1.0 0 0 0 405.7,442.8 L405.7,439.2 Z" fill="#0a0a0a"/>
<path d="M414.4,434.9 L414.4,431.2 A3.3,4.1 0 0 1 421.0,431.2 L421.0,434.9 Z" fill="#0a0a0a"/>
<ellipse cx="417.0" cy="430.4" rx="1.4" ry="2.0" fill="#fff"/>
<ellipse cx="417.2" cy="433.5" rx="1.8" ry="0.5" fill="#fff"/>
<path d="M417.5,439.9 L417.5,443.5 A1.0,1.0 0 0 0 419.5,443.5 L419.5,439.9 Z" fill="#0a0a0a"/>
<path d="M431.5,435.5 L431.5,431.8 A3.3,4.1 0 0 1 438.1,431.8 L438.1,435.5 Z" fill="#0a0a0a"/>
<ellipse cx="434.1" cy="431.1" rx="1.4" ry="2.0" fill="#fff"/>
<ellipse cx="434.3" cy="434.2" rx="1.8" ry="0.5" fill="#fff"/>
<path d="M434.6,440.8 L434.6,444.4 A1.0,1.0 0 0 0 436.6,444.4 L436.6,440.8 Z" fill="#0a0a0a"/>
<path d="M447.5,436.1 L447.5,432.4 A3.3,4.1 0 0 1 454.1,432.4 L454.1,436.1 Z" fill="#0a0a0a"/>
<ellipse cx="450.1" cy="431.7" rx="1.4" ry="2.0" fill="#fff"/>
<ellipse cx="450.3" cy="434.8" rx="1.8" ry="0.5" fill="#fff"/>
<path d="M450.6,441.7 L450.6,445.3 A1.0,1.0 0 0 0 452.6,445.3 L452.6,441.7 Z" fill="#0a0a0a"/>
<path d="M477.4,437.3 L477.4,433.6 A3.3,4.1 0 0 1 484.0,433.6 L484.0,437.3 Z" fill="#0a0a0a"/>
<ellipse cx="480.0" cy="432.8" rx="1.4" ry="2.0" fill="#fff"/>
<ellipse cx="480.2" cy="435.9" rx="1.8" ry="0.5" fill="#fff"/>
<path d="M480.5,443.3 L480.5,446.9 A1.0,1.0 0 0 0 482.5,446.9 L482.5,443.3 Z" fill="#0a0a0a"/>
<path d="M492.7,437.9 L492.7,434.2 A3.3,4.1 0 0 1 499.3,434.2 L499.3,437.9 Z" fill="#0a0a0a"/>
<ellipse cx="495.3" cy="433.4" rx="1.4" ry="2.0" fill="#fff"/>
<ellipse cx="495.5" cy="436.5" rx="1.8" ry="0.5" fill="#fff"/>
<path d="M495.8,444.1 L495.8,447.7 A1.0,1.0 0 0 0 497.8,447.7 L497.8,444.1 Z" fill="#0a0a0a"/>
<path d="M507.9,438.4 L507.9,434.8 A3.3,4.1 0 0 1 514.5,434.8 L514.5,438.4 Z" fill="#0a0a0a"/>
<ellipse cx="510.5" cy="434.0" rx="1.4" ry="2.0" fill="#fff"/>
<ellipse cx="510.7" cy="437.1" rx="1.8" ry="0.5" fill="#fff"/>
<path d="M511.0,444.9 L511.0,448.5 A1.0,1.0 0 0 0 513.0,448.5 L513.0,444.9 Z" fill="#0a0a0a"/>
<path d="M524.9,439.1 L524.9,435.4 A3.3,4.1 0 0 1 531.5,435.4 L531.5,439.1 Z" fill="#0a0a0a"/>
<ellipse cx="527.5" cy="434.6" rx="1.4" ry="2.0" fill="#fff"/>
<ellipse cx="527.7" cy="437.8" rx="1.8" ry="0.5" fill="#fff"/>
<path d="M528.0,445.8 L528.0,449.4 A1.0,1.0 0 0 0 530.0,449.4 L530.0,445.8 Z" fill="#0a0a0a"/>
<circle cx="396.5" cy="348.6" r="0.6" fill="#0a0a0a"/>
<circle cx="399.5" cy="349.0" r="0.6" fill="#0a0a0a"/>
<circle cx="9.5" cy="459.6" r="0.6" fill="#0a0a0a"/>
<circle cx="11.8" cy="461.2" r="0.6" fill="#0a0a0a"/>
<circle cx="13.2" cy="458.6" r="0.55" fill="#0a0a0a"/>
<circle cx="16.6" cy="457.8" r="0.5" fill="#0a0a0a"/>
<polygon points="110.7,392.0 120.0,379.7 128.5,391.2 129.3,400.0 135.6,704.0 117.0,701.5" fill="#fff"  />
<path d="M110.9,393 L120,379.9 L128.6,391.4" fill="none" stroke="#0a0a0a" stroke-width="2.2" stroke-linejoin="round"/>
<line x1="120.0" y1="380.5" x2="118.4" y2="393.3" stroke="#0a0a0a" stroke-width="1.6" stroke-linecap="round"/>
<path d="M110.9,392.3 L114,395.6 L118.4,393.3 L126,394" fill="none" stroke="#0a0a0a" stroke-width="1.8"/>
<path d="M122.0,383 L128.6,391.2 L129.6,412 L123.6,412 L123.4,394 Z" fill="#0a0a0a"/>
<ellipse cx="125.2" cy="389.8" rx="0.7" ry="1.0" fill="#fff"/>
<path d="M110.9,392.5 L112.5,420 L113.6,445 L114.7,500 L115.8,557 L117,701.5" fill="none" stroke="#0a0a0a" stroke-width="2.6"/>
<path d="M123.6,396 L129.5,394 L133.2,560 L135.6,704 L133.8,704 L131.5,640 L129.8,600 L128.2,560 L126,480 Z" fill="#0a0a0a"/>
<path d="M130,612 Q127.5,630 129.5,648 Q131.5,665 129.5,680 Q128.5,692 131,703" fill="none" stroke="#0a0a0a" stroke-width="1.6"/>
<path d="M127.5,615 L127,628" fill="none" stroke="#0a0a0a" stroke-width="1.1"/>
<path d="M119.5,566 L119.2,585" fill="none" stroke="#0a0a0a" stroke-width="1.0" stroke-dasharray="4,3"/>
<path d="M112.0,435.6 L131.4,435.6 L131.4,452.5 L125.6,452.5 L125.6,448.5 Q125.6,443.6 120.6,443.6 L119.5,443.6 Q114.6,443.6 114.6,448.5 L114.6,452.5 L112.0,452.5 Z" fill="#0a0a0a"/>
<path d="M113.3,493.7 L132.6,493.7 L132.6,510.1 L126.8,510.1 L126.8,506.1 Q126.8,501.2 121.9,501.2 L120.8,501.2 Q115.9,501.2 115.9,506.1 L115.9,510.1 L113.3,510.1 Z" fill="#0a0a0a"/>
<path d="M114.5,553.9 L133.8,553.9 L133.8,570.3 L128.0,570.3 L128.0,566.3 Q128.0,561.4 123.1,561.4 L122.0,561.4 Q117.1,561.4 117.1,566.3 L117.1,570.3 L114.5,570.3 Z" fill="#0a0a0a"/>
<line x1="127.6" y1="452" x2="128.4" y2="476" stroke="#fff" stroke-width="0.9" stroke-linecap="round"/>
<line x1="128.2" y1="508" x2="128.9" y2="530" stroke="#fff" stroke-width="0.9" stroke-linecap="round"/>
<line x1="129.2" y1="566" x2="129.6" y2="585" stroke="#fff" stroke-width="0.9" stroke-linecap="round"/>
<line x1="130.0" y1="600" x2="130.3" y2="612" stroke="#fff" stroke-width="0.9" stroke-linecap="round"/>
<path d="M0.0,423.5 L20.0,418.5" fill="none" stroke="#0a0a0a" stroke-width="1.7" stroke-linecap="round"/>
<path d="M0.0,468.7 L18.0,466.0" fill="none" stroke="#0a0a0a" stroke-width="1.7" stroke-linecap="round"/>
<path d="M1.0,480.1 L33.0,477.0" fill="none" stroke="#0a0a0a" stroke-width="1.7" stroke-linecap="round"/>
<path d="M42.7,518.5 C48.9,516.3 68.5,509.3 80.0,505.2 C91.5,501.1 106.7,495.9 112.0,494.0" fill="none" stroke="#0a0a0a" stroke-width="1.7" stroke-linecap="round"/>
<path d="M1.0,535.0 L22.0,530.5" fill="none" stroke="#0a0a0a" stroke-width="1.7" stroke-linecap="round"/>
<path d="M2.2,597.2 C8.5,595.0 24.4,589.6 40.0,584.0 C55.6,578.4 82.7,568.3 96.0,563.5 C109.3,558.7 116.0,556.4 120.0,555.0" fill="none" stroke="#0a0a0a" stroke-width="1.7" stroke-linecap="round"/>
<path d="M22.5,606.2 C28.8,603.9 49.6,595.9 60.0,592.0 C70.4,588.1 78.2,585.4 85.0,583.0 C91.8,580.6 95.9,579.2 101.0,577.4 C106.1,575.6 113.1,572.9 115.5,572.0" fill="none" stroke="#0a0a0a" stroke-width="1.7" stroke-linecap="round"/>
<path d="M22.5,638.5 C28.8,635.8 49.6,626.9 60.0,622.0 C70.4,617.1 77.5,612.9 85.0,609.0 C92.5,605.1 99.8,601.2 105.0,598.5 C110.2,595.8 111.3,595.6 116.2,593.0 C121.1,590.4 127.7,586.5 134.3,583.0 C140.9,579.5 151.2,574.4 155.8,572.0 C160.4,569.6 161.0,569.1 162.0,568.5" fill="none" stroke="#0a0a0a" stroke-width="1.7" stroke-linecap="round"/>
<path d="M49.3,645.3 C56.0,641.8 78.5,630.2 89.8,624.6 C101.1,619.0 110.7,614.8 117.0,611.8 C123.3,608.8 124.2,608.4 127.4,606.6 C130.6,604.8 130.8,604.1 136.2,601.1 C141.6,598.1 151.3,593.0 160.0,588.5 C168.7,584.0 183.3,576.7 188.5,574.0 C193.7,571.3 190.6,572.8 191.0,572.5" fill="none" stroke="#0a0a0a" stroke-width="1.7" stroke-linecap="round"/>
<path d="M32.0,652.5 L40.5,648.3" fill="none" stroke="#0a0a0a" stroke-width="1.7" stroke-linecap="round"/>
<line x1="87.6" y1="431.0" x2="112.5" y2="464.0" stroke="#0a0a0a" stroke-width="3.4" stroke-linecap="round"/>
<line x1="157.0" y1="444.0" x2="129.2" y2="476.0" stroke="#0a0a0a" stroke-width="3.6" stroke-linecap="round"/>
<line x1="82.5" y1="489.0" x2="114.0" y2="534.4" stroke="#0a0a0a" stroke-width="3.4" stroke-linecap="round"/>
<path d="M90.8,548.4 L112,587 Q115.5,594 116.3,606" fill="none" stroke="#0a0a0a" stroke-width="3.2" stroke-linecap="round"/>
<line x1="164.0" y1="566.0" x2="131.0" y2="603.5" stroke="#0a0a0a" stroke-width="1.4" stroke-linecap="round"/>
<line x1="161.4" y1="564.6" x2="128.6" y2="601.8" stroke="#0a0a0a" stroke-width="1.4" stroke-linecap="round"/>
<polygon points="17.3,409.5 25.3,405.9 230.0,440.3 216.3,442.7" fill="#fff" stroke="#0a0a0a" stroke-width="2.0" stroke-linejoin="round" />
<polygon points="17.3,409.5 216.3,442.7 216.7,455.0 17.3,418.3" fill="#fff" stroke="#0a0a0a" stroke-width="2.0" stroke-linejoin="round" />
<polygon points="216.3,442.7 230.0,440.3 230.4,452.6 216.7,455.0" fill="#0a0a0a" stroke="#0a0a0a" stroke-width="2.0" stroke-linejoin="round" />
<line x1="220.4" y1="444.2" x2="220.4" y2="452.1" stroke="#fff" stroke-width="0.7" opacity="0.85"/>
<line x1="223.8" y1="443.6" x2="223.8" y2="451.5" stroke="#fff" stroke-width="0.7" opacity="0.85"/>
<line x1="227.0" y1="443.0" x2="227.0" y2="450.9" stroke="#fff" stroke-width="0.7" opacity="0.85"/>
<circle cx="113.5" cy="431.3" r="1.4" fill="#0a0a0a"/>
<circle cx="124.0" cy="433.1" r="1.4" fill="#0a0a0a"/>
<polygon points="16.0,466.0 25.0,462.4 231.7,502.9 219.6,505.3" fill="#fff" stroke="#0a0a0a" stroke-width="2.0" stroke-linejoin="round" />
<polygon points="16.0,466.0 219.6,505.3 220.2,515.2 16.0,474.7" fill="#fff" stroke="#0a0a0a" stroke-width="2.0" stroke-linejoin="round" />
<polygon points="219.6,505.3 231.7,502.9 232.3,512.8 220.2,515.2" fill="#0a0a0a" stroke="#0a0a0a" stroke-width="2.0" stroke-linejoin="round" />
<line x1="223.2" y1="506.8" x2="223.2" y2="512.3" stroke="#fff" stroke-width="0.7" opacity="0.85"/>
<line x1="226.3" y1="506.2" x2="226.3" y2="511.7" stroke="#fff" stroke-width="0.7" opacity="0.85"/>
<line x1="229.0" y1="505.6" x2="229.0" y2="511.1" stroke="#fff" stroke-width="0.7" opacity="0.85"/>
<circle cx="113.5" cy="489.9" r="1.4" fill="#0a0a0a"/>
<circle cx="124.0" cy="492.0" r="1.4" fill="#0a0a0a"/>
<polygon points="19.8,524.6 26.8,521.1 232.3,562.0 220.2,564.7" fill="#fff" stroke="#0a0a0a" stroke-width="2.0" stroke-linejoin="round" />
<polygon points="19.8,524.6 220.2,564.7 218.0,578.5 19.8,531.8" fill="#fff" stroke="#0a0a0a" stroke-width="2.0" stroke-linejoin="round" />
<polygon points="220.2,564.7 232.3,562.0 230.1,575.8 218.0,578.5" fill="#0a0a0a" stroke="#0a0a0a" stroke-width="2.0" stroke-linejoin="round" />
<line x1="223.8" y1="566.1" x2="223.8" y2="575.5" stroke="#fff" stroke-width="0.7" opacity="0.85"/>
<line x1="226.9" y1="565.4" x2="226.9" y2="574.8" stroke="#fff" stroke-width="0.7" opacity="0.85"/>
<line x1="229.6" y1="564.8" x2="229.6" y2="574.2" stroke="#fff" stroke-width="0.7" opacity="0.85"/>
<circle cx="113.5" cy="549.1" r="1.4" fill="#0a0a0a"/>
<circle cx="124.0" cy="551.4" r="1.4" fill="#0a0a0a"/>
<path d="M1.0,547.9 C8.0,546.3 33.7,540.8 42.7,538.3 C51.7,535.8 50.6,534.9 55.0,533.0 C59.4,531.1 66.0,528.2 69.0,527.0 C72.0,525.8 72.3,525.8 73.0,525.5" fill="none" stroke="#0a0a0a" stroke-width="1.8" stroke-linecap="round"/>
<path d="M1.5,570.2 C7.5,568.9 27.8,564.8 37.5,562.0 C47.2,559.2 53.8,556.1 60.0,553.5 C66.2,550.9 70.8,548.8 75.0,546.5 C79.2,544.2 81.8,541.8 85.0,539.5 C88.2,537.2 91.7,534.5 94.0,533.0 C96.3,531.5 98.2,530.9 99.0,530.5" fill="none" stroke="#0a0a0a" stroke-width="1.8" stroke-linecap="round"/>
<path d="M106.0,465.0 C107.4,464.3 110.2,463.0 114.4,460.8 C118.6,458.6 125.4,455.1 131.0,452.0 C136.6,448.9 142.8,445.4 148.0,442.3 C153.2,439.2 159.1,435.8 162.3,433.7 C165.5,431.6 166.2,430.6 167.0,430.0" fill="none" stroke="#0a0a0a" stroke-width="1.8" stroke-linecap="round"/>
<path d="M131.0,477.0 C134.5,475.6 145.5,471.9 152.0,468.8 C158.5,465.7 164.7,462.1 170.0,458.5 C175.3,454.9 179.2,450.4 183.7,447.0 C188.2,443.6 193.4,440.5 197.0,438.0 C200.6,435.5 203.7,433.0 205.0,432.0" fill="none" stroke="#0a0a0a" stroke-width="1.8" stroke-linecap="round"/>
<path d="M133.0,509.0 C135.9,507.8 144.3,504.1 150.3,502.0 C156.3,499.9 163.2,498.3 169.0,496.5 C174.8,494.7 182.3,491.9 185.0,491.0" fill="none" stroke="#0a0a0a" stroke-width="1.8" stroke-linecap="round"/>
<path d="M160.0,515.0 C162.8,514.0 170.8,511.1 177.0,508.7 C183.2,506.3 191.5,502.8 197.0,500.7 C202.5,498.6 207.8,496.8 210.0,496.0" fill="none" stroke="#0a0a0a" stroke-width="1.8" stroke-linecap="round"/>
<path d="M141.0,563.0 C142.5,562.1 146.2,559.8 150.0,557.5 C153.8,555.2 160.9,551.0 163.7,549.3 C166.5,547.5 166.4,547.4 167.0,547.0" fill="none" stroke="#0a0a0a" stroke-width="1.8" stroke-linecap="round"/>
<path d="M169.0,566.0 C170.5,565.2 175.3,562.5 178.0,561.0 C180.7,559.5 183.2,558.3 185.0,557.3 C186.8,556.3 188.3,555.4 189.0,555.0" fill="none" stroke="#0a0a0a" stroke-width="1.8" stroke-linecap="round"/>
<path d="M187.0,574.5 C189.2,573.1 196.6,568.2 200.0,566.0 C203.4,563.8 205.5,562.6 207.7,561.3 C209.9,560.0 212.1,558.5 213.0,558.0" fill="none" stroke="#0a0a0a" stroke-width="1.8" stroke-linecap="round"/>
<path d="M0.0,412.8 C3.3,412.1 14.0,409.8 20.0,408.5 C26.0,407.2 33.3,405.6 36.0,405.0" fill="none" stroke="#0a0a0a" stroke-width="1.8" stroke-linecap="round"/>
<path d="M0.0,441.0 C4.3,439.7 16.5,435.9 26.0,433.3 C35.5,430.7 47.8,428.4 57.0,425.5 C66.2,422.6 74.8,418.7 81.5,416.0 C88.2,413.3 92.0,411.7 97.0,409.5 C102.0,407.3 109.1,404.1 111.5,403.0" fill="none" stroke="#0a0a0a" stroke-width="1.8" stroke-linecap="round"/>
<path d="M10.0,456.5 C15.8,454.4 33.3,448.3 45.0,444.0 C56.7,439.7 71.9,433.8 80.0,430.8 C88.1,427.8 88.2,427.8 93.5,425.8 C98.8,423.8 108.9,420.1 112.0,419.0" fill="none" stroke="#0a0a0a" stroke-width="1.8" stroke-linecap="round"/>
<path d="M30.0,419.5 C33.5,418.3 46.5,414.0 51.2,412.4 C55.9,410.8 56.9,410.4 58.0,410.0" fill="none" stroke="#0a0a0a" stroke-width="1.8" stroke-linecap="round"/>
<path d="M61.0,466.5 C64.2,465.1 74.3,460.9 80.0,458.3 C85.7,455.7 89.7,453.5 95.0,451.0 C100.3,448.5 109.2,444.8 112.0,443.5" fill="none" stroke="#0a0a0a" stroke-width="1.8" stroke-linecap="round"/>
<path d="M41.0,520.5 C44.8,519.4 59.2,515.4 64.0,514.0 C68.8,512.6 69.0,512.3 70.0,512.0" fill="none" stroke="#0a0a0a" stroke-width="1.8" stroke-linecap="round"/>
<path d="M1.0,489.7 C5.8,488.1 20.4,482.9 30.0,480.0 C39.6,477.1 47.5,474.3 58.7,472.0 C69.9,469.7 90.6,467.0 97.0,466.0" fill="none" stroke="#0a0a0a" stroke-width="1.8" stroke-linecap="round"/>
<path d="M1.0,504.1 C6.2,503.2 23.3,500.8 32.0,498.8 C40.7,496.9 45.3,495.1 53.3,492.4 C61.3,489.7 72.7,485.7 80.0,482.8 C87.3,479.9 94.2,476.3 97.0,475.0" fill="none" stroke="#0a0a0a" stroke-width="1.8" stroke-linecap="round"/>
<path d="M1.0,513.7 C6.2,511.7 23.6,504.9 32.0,501.5 C40.4,498.1 43.2,496.1 51.2,493.5 C59.2,490.9 71.9,488.6 80.0,486.0 C88.1,483.4 94.3,480.3 100.0,478.0 C105.7,475.7 111.7,473.0 114.0,472.0" fill="none" stroke="#0a0a0a" stroke-width="1.8" stroke-linecap="round"/>
<path d="M2.0,527.6 C7.0,526.5 26.2,522.6 32.0,521.2 C37.8,519.9 36.2,519.8 37.0,519.5" fill="none" stroke="#0a0a0a" stroke-width="1.8" stroke-linecap="round"/>
<path d="M32.7,408.8 L32.7,402.3 A5.3,6.6 0 0 1 43.3,402.3 L43.3,408.8 Z" fill="#0a0a0a"/>
<ellipse cx="36.8" cy="401.3" rx="2.2" ry="3.4" fill="#fff"/>
<ellipse cx="37.2" cy="406.6" rx="2.9" ry="0.9" fill="#fff"/>
<path d="M37.8,420.6 L37.8,426.2 A1.4,1.4 0 0 0 40.6,426.2 L40.6,420.6 Z" fill="#0a0a0a"/>
<path d="M55.0,409.6 L55.0,403.0 A5.3,6.6 0 0 1 65.6,403.0 L65.6,409.6 Z" fill="#0a0a0a"/>
<ellipse cx="59.1" cy="402.1" rx="2.2" ry="3.4" fill="#fff"/>
<ellipse cx="59.5" cy="407.3" rx="2.9" ry="0.9" fill="#fff"/>
<path d="M60.1,424.7 L60.1,430.3 A1.4,1.4 0 0 0 62.9,430.3 L62.9,424.7 Z" fill="#0a0a0a"/>
<path d="M77.5,413.9 L77.5,407.3 A5.3,6.6 0 0 1 88.1,407.3 L88.1,413.9 Z" fill="#0a0a0a"/>
<ellipse cx="81.6" cy="406.3" rx="2.2" ry="3.4" fill="#fff"/>
<ellipse cx="82.0" cy="411.6" rx="2.9" ry="0.9" fill="#fff"/>
<path d="M82.6,428.9 L82.6,434.5 A1.4,1.4 0 0 0 85.4,434.5 L85.4,428.9 Z" fill="#0a0a0a"/>
<path d="M96.4,417.1 L96.4,410.6 A5.3,6.6 0 0 1 107.0,410.6 L107.0,417.1 Z" fill="#0a0a0a"/>
<ellipse cx="100.5" cy="409.6" rx="2.2" ry="3.4" fill="#fff"/>
<ellipse cx="100.9" cy="414.9" rx="2.9" ry="0.9" fill="#fff"/>
<path d="M101.5,432.3 L101.5,437.9 A1.4,1.4 0 0 0 104.3,437.9 L104.3,432.3 Z" fill="#0a0a0a"/>
<path d="M136.7,425.3 L136.7,418.7 A5.3,6.6 0 0 1 147.3,418.7 L147.3,425.3 Z" fill="#0a0a0a"/>
<ellipse cx="140.8" cy="417.8" rx="2.2" ry="3.4" fill="#fff"/>
<ellipse cx="141.2" cy="423.1" rx="2.9" ry="0.9" fill="#fff"/>
<path d="M141.8,439.8 L141.8,445.4 A1.4,1.4 0 0 0 144.6,445.4 L144.6,439.8 Z" fill="#0a0a0a"/>
<path d="M157.5,429.8 L157.5,423.2 A5.3,6.6 0 0 1 168.1,423.2 L168.1,429.8 Z" fill="#0a0a0a"/>
<ellipse cx="161.6" cy="422.3" rx="2.2" ry="3.4" fill="#fff"/>
<ellipse cx="162.0" cy="427.6" rx="2.9" ry="0.9" fill="#fff"/>
<path d="M162.6,443.6 L162.6,449.2 A1.4,1.4 0 0 0 165.4,449.2 L165.4,443.6 Z" fill="#0a0a0a"/>
<path d="M180.7,433.7 L180.7,427.1 A5.3,6.6 0 0 1 191.3,427.1 L191.3,433.7 Z" fill="#0a0a0a"/>
<ellipse cx="184.8" cy="426.2" rx="2.2" ry="3.4" fill="#fff"/>
<ellipse cx="185.2" cy="431.5" rx="2.9" ry="0.9" fill="#fff"/>
<path d="M185.8,447.8 L185.8,453.4 A1.4,1.4 0 0 0 188.6,453.4 L188.6,447.8 Z" fill="#0a0a0a"/>
<path d="M206.7,438.1 L206.7,431.5 A5.3,6.6 0 0 1 217.3,431.5 L217.3,438.1 Z" fill="#0a0a0a"/>
<ellipse cx="210.8" cy="430.6" rx="2.2" ry="3.4" fill="#fff"/>
<ellipse cx="211.2" cy="435.8" rx="2.9" ry="0.9" fill="#fff"/>
<path d="M211.8,452.6 L211.8,458.2 A1.4,1.4 0 0 0 214.6,458.2 L214.6,452.6 Z" fill="#0a0a0a"/>
<path d="M31.1,465.9 L31.1,460.9 A5.1,6.4 0 0 1 41.3,460.9 L41.3,465.9 Z" fill="#0a0a0a"/>
<ellipse cx="35.1" cy="459.4" rx="2.1" ry="3.0" fill="#fff"/>
<ellipse cx="35.4" cy="464.0" rx="2.8" ry="0.8" fill="#fff"/>
<path d="M36.0,477.2 L36.0,482.8 A1.4,1.4 0 0 0 38.8,482.8 L38.8,477.2 Z" fill="#0a0a0a"/>
<path d="M51.6,469.9 L51.6,464.9 A5.1,6.4 0 0 1 61.8,464.9 L61.8,469.9 Z" fill="#0a0a0a"/>
<ellipse cx="55.6" cy="463.4" rx="2.1" ry="3.0" fill="#fff"/>
<ellipse cx="55.9" cy="468.0" rx="2.8" ry="0.8" fill="#fff"/>
<path d="M56.5,481.3 L56.5,486.9 A1.4,1.4 0 0 0 59.3,486.9 L59.3,481.3 Z" fill="#0a0a0a"/>
<path d="M73.6,474.2 L73.6,469.2 A5.1,6.4 0 0 1 83.8,469.2 L83.8,474.2 Z" fill="#0a0a0a"/>
<ellipse cx="77.6" cy="467.7" rx="2.1" ry="3.0" fill="#fff"/>
<ellipse cx="77.9" cy="472.3" rx="2.8" ry="0.8" fill="#fff"/>
<path d="M78.5,485.6 L78.5,491.2 A1.4,1.4 0 0 0 81.3,491.2 L81.3,485.6 Z" fill="#0a0a0a"/>
<path d="M92.9,478.0 L92.9,473.0 A5.1,6.4 0 0 1 103.1,473.0 L103.1,478.0 Z" fill="#0a0a0a"/>
<ellipse cx="96.9" cy="471.5" rx="2.1" ry="3.0" fill="#fff"/>
<ellipse cx="97.2" cy="476.1" rx="2.8" ry="0.8" fill="#fff"/>
<path d="M97.8,489.5 L97.8,495.1 A1.4,1.4 0 0 0 100.6,495.1 L100.6,489.5 Z" fill="#0a0a0a"/>
<path d="M139.3,487.1 L139.3,482.1 A5.1,6.4 0 0 1 149.5,482.1 L149.5,487.1 Z" fill="#0a0a0a"/>
<ellipse cx="143.3" cy="480.6" rx="2.1" ry="3.0" fill="#fff"/>
<ellipse cx="143.6" cy="485.2" rx="2.8" ry="0.8" fill="#fff"/>
<path d="M144.2,498.7 L144.2,504.3 A1.4,1.4 0 0 0 147.0,504.3 L147.0,498.7 Z" fill="#0a0a0a"/>
<path d="M160.9,491.3 L160.9,486.3 A5.1,6.4 0 0 1 171.1,486.3 L171.1,491.3 Z" fill="#0a0a0a"/>
<ellipse cx="164.9" cy="484.8" rx="2.1" ry="3.0" fill="#fff"/>
<ellipse cx="165.2" cy="489.4" rx="2.8" ry="0.8" fill="#fff"/>
<path d="M165.8,503.0 L165.8,508.6 A1.4,1.4 0 0 0 168.6,508.6 L168.6,503.0 Z" fill="#0a0a0a"/>
<path d="M183.3,495.7 L183.3,490.7 A5.1,6.4 0 0 1 193.5,490.7 L193.5,495.7 Z" fill="#0a0a0a"/>
<ellipse cx="187.3" cy="489.2" rx="2.1" ry="3.0" fill="#fff"/>
<ellipse cx="187.6" cy="493.8" rx="2.8" ry="0.8" fill="#fff"/>
<path d="M188.2,507.4 L188.2,513.0 A1.4,1.4 0 0 0 191.0,513.0 L191.0,507.4 Z" fill="#0a0a0a"/>
<path d="M209.6,500.9 L209.6,495.8 A5.1,6.4 0 0 1 219.8,495.8 L219.8,500.9 Z" fill="#0a0a0a"/>
<ellipse cx="213.6" cy="494.4" rx="2.1" ry="3.0" fill="#fff"/>
<ellipse cx="213.9" cy="498.9" rx="2.8" ry="0.8" fill="#fff"/>
<path d="M214.5,512.6 L214.5,518.2 A1.4,1.4 0 0 0 217.3,518.2 L217.3,512.6 Z" fill="#0a0a0a"/>
<path d="M31.6,524.7 L31.6,519.5 A5.0,6.2 0 0 1 41.6,519.5 L41.6,524.7 Z" fill="#0a0a0a"/>
<ellipse cx="35.5" cy="518.2" rx="2.1" ry="3.0" fill="#fff"/>
<ellipse cx="35.8" cy="522.7" rx="2.7" ry="0.8" fill="#fff"/>
<path d="M36.4,534.3 L36.4,539.9 A1.4,1.4 0 0 0 39.2,539.9 L39.2,534.3 Z" fill="#0a0a0a"/>
<path d="M54.0,529.1 L54.0,524.0 A5.0,6.2 0 0 1 64.0,524.0 L64.0,529.1 Z" fill="#0a0a0a"/>
<ellipse cx="57.9" cy="522.6" rx="2.1" ry="3.0" fill="#fff"/>
<ellipse cx="58.2" cy="527.2" rx="2.7" ry="0.8" fill="#fff"/>
<path d="M58.8,539.5 L58.8,545.1 A1.4,1.4 0 0 0 61.6,545.1 L61.6,539.5 Z" fill="#0a0a0a"/>
<path d="M75.0,533.3 L75.0,528.1 A5.0,6.2 0 0 1 85.0,528.1 L85.0,533.3 Z" fill="#0a0a0a"/>
<ellipse cx="78.9" cy="526.8" rx="2.1" ry="3.0" fill="#fff"/>
<ellipse cx="79.2" cy="531.4" rx="2.7" ry="0.8" fill="#fff"/>
<path d="M79.8,544.5 L79.8,550.1 A1.4,1.4 0 0 0 82.6,550.1 L82.6,544.5 Z" fill="#0a0a0a"/>
<path d="M96.0,537.5 L96.0,532.3 A5.0,6.2 0 0 1 106.0,532.3 L106.0,537.5 Z" fill="#0a0a0a"/>
<ellipse cx="99.9" cy="531.0" rx="2.1" ry="3.0" fill="#fff"/>
<ellipse cx="100.2" cy="535.5" rx="2.7" ry="0.8" fill="#fff"/>
<path d="M100.8,549.4 L100.8,555.0 A1.4,1.4 0 0 0 103.6,555.0 L103.6,549.4 Z" fill="#0a0a0a"/>
<path d="M141.8,546.6 L141.8,541.4 A5.0,6.2 0 0 1 151.8,541.4 L151.8,546.6 Z" fill="#0a0a0a"/>
<ellipse cx="145.7" cy="540.1" rx="2.1" ry="3.0" fill="#fff"/>
<ellipse cx="146.0" cy="544.6" rx="2.7" ry="0.8" fill="#fff"/>
<path d="M146.6,560.2 L146.6,565.8 A1.4,1.4 0 0 0 149.4,565.8 L149.4,560.2 Z" fill="#0a0a0a"/>
<path d="M162.6,550.7 L162.6,545.6 A5.0,6.2 0 0 1 172.6,545.6 L172.6,550.7 Z" fill="#0a0a0a"/>
<ellipse cx="166.5" cy="544.2" rx="2.1" ry="3.0" fill="#fff"/>
<ellipse cx="166.8" cy="548.8" rx="2.7" ry="0.8" fill="#fff"/>
<path d="M167.4,565.1 L167.4,570.7 A1.4,1.4 0 0 0 170.2,570.7 L170.2,565.1 Z" fill="#0a0a0a"/>
<path d="M185.5,555.3 L185.5,550.1 A5.0,6.2 0 0 1 195.5,550.1 L195.5,555.3 Z" fill="#0a0a0a"/>
<ellipse cx="189.4" cy="548.8" rx="2.1" ry="3.0" fill="#fff"/>
<ellipse cx="189.7" cy="553.3" rx="2.7" ry="0.8" fill="#fff"/>
<path d="M190.3,570.5 L190.3,576.1 A1.4,1.4 0 0 0 193.1,576.1 L193.1,570.5 Z" fill="#0a0a0a"/>
<path d="M211.6,560.5 L211.6,555.3 A5.0,6.2 0 0 1 221.6,555.3 L221.6,560.5 Z" fill="#0a0a0a"/>
<ellipse cx="215.5" cy="554.0" rx="2.1" ry="3.0" fill="#fff"/>
<ellipse cx="215.8" cy="558.5" rx="2.7" ry="0.8" fill="#fff"/>
<path d="M216.4,576.7 L216.4,582.3 A1.4,1.4 0 0 0 219.2,582.3 L219.2,576.7 Z" fill="#0a0a0a"/>
<ellipse cx="107.5" cy="589.3" rx="2.6" ry="2.9" fill="#0a0a0a"/>
<line x1="107.5" y1="590.5" x2="114.0" y2="591.5" stroke="#0a0a0a" stroke-width="2.6" stroke-linecap="round"/>
<line x1="117.3" y1="653.0" x2="107.3" y2="653.0" stroke="#0a0a0a" stroke-width="2.8" stroke-linecap="round"/>
<ellipse cx="107.3" cy="652.2" rx="2.3" ry="3.2" fill="#0a0a0a"/>
<line x1="134.5" y1="622.0" x2="144.0" y2="622.0" stroke="#0a0a0a" stroke-width="3.0" stroke-linecap="round"/>
<ellipse cx="144.0" cy="621.2" rx="2.5" ry="3.4" fill="#0a0a0a"/>
<ellipse cx="129" cy="607.5" rx="2.4" ry="3.0" fill="#0a0a0a"/>
</g>
</svg>
</body></html>
